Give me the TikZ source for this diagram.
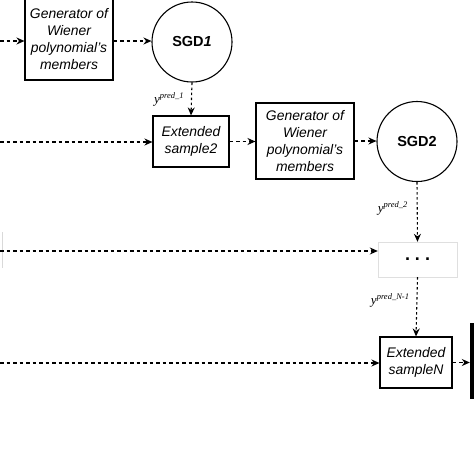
\documentclass[tikz,border=0pt]{standalone}
\usepackage{fontspec}
\setmainfont{Liberation Sans}
\newfontfamily\labelfont{Liberation Serif}
\usetikzlibrary{arrows.meta,positioning}

\newcommand\ypred[1]{y\raisebox{5pt}{\fontsize{8.5}{9}\selectfont pred\_#1}}

\tikzset{
  block/.style={draw, line width=1.1pt, align=center, inner sep=1pt,
    font=\fontsize{13.9}{17.2}\selectfont\itshape},
  sgd/.style={draw, circle, minimum size=80pt, line width=1.1pt,
    font=\fontsize{14.5}{17}\selectfont\bfseries},
  flow/.style={-{Stealth[length=8pt,width=7pt]}, dash pattern=on 3.5pt off 3pt, line width=1.1pt},
  feed/.style={flow, dash pattern=on 2.5pt off 2.5pt},
  pred/.style={font=\labelfont\itshape\fontsize{13}{13}\selectfont}
}

\begin{document}
\begin{tikzpicture}[x=1pt,y=1pt]
\useasboundingbox (0,0) rectangle (474,-474);

\node[block, minimum width=88pt, minimum height=82pt] (gen1) at (69,-39)
  {Generator of\\Wiener\\polynomial's\\members};
\node[sgd] (sgd1) at (192,-42) {SGD\textit{1}};
\node[block, minimum width=76pt, minimum height=51pt] (samp2) at (191,-141.5)
  {Extended\\sample2};
\node[block, minimum width=98pt, minimum height=76pt] (gen2) at (305,-141)
  {Generator of\\Wiener\\polynomial's\\members};
\node[sgd] (sgd2) at (417,-141.5) {SGD2};
\node[draw=gray!25, minimum width=79pt, minimum height=35pt,
  font=\fontsize{18}{18}\selectfont\bfseries] (dots) at (417.5,-259.5) {.\ .\ .};
\node[block, minimum width=72pt, minimum height=51pt] (sampN) at (416,-362.5)
  {Extended\\sampleN};
\node[draw, fill=black, inner sep=0pt, minimum width=4pt, minimum height=75pt] (bar) at (472,-360.5) {};

\coordinate (in1) at (0,-41);
\coordinate (in2) at (0,-142);
\coordinate (in3) at (0,-251);
\coordinate (in4) at (0,-363);

\draw[gray!30, line width=1pt] (2,-232) -- (2,-268);

\draw[flow] (in1) -- (gen1.west |- in1);
\draw[flow] (gen1.east |- in1) -- (sgd1.west |- in1);
\draw[feed] (sgd1.south) -- node[pred, left=4pt] {\ypred{1}} (samp2.north);
\draw[flow] (in2) -- (samp2.west |- in2);
\draw[flow] (samp2.east) -- (gen2.west |- samp2.east);
\draw[flow] (gen2.east) -- (sgd2.west |- gen2.east);
\draw[feed] (sgd2.south) -- node[pred, pos=0.45, left=6pt] {\ypred{2}} (dots.north);
\draw[flow] (in3) -- (dots.west |- in3);
\draw[feed] (dots.south) -- node[pred, pos=0.4, left=4pt] {\ypred{N-1}} (sampN.north);
\draw[flow] (in4) -- (sampN.west |- in4);
\draw[flow] (sampN.east) -- (bar.west |- sampN.east);
\end{tikzpicture}
\end{document}
